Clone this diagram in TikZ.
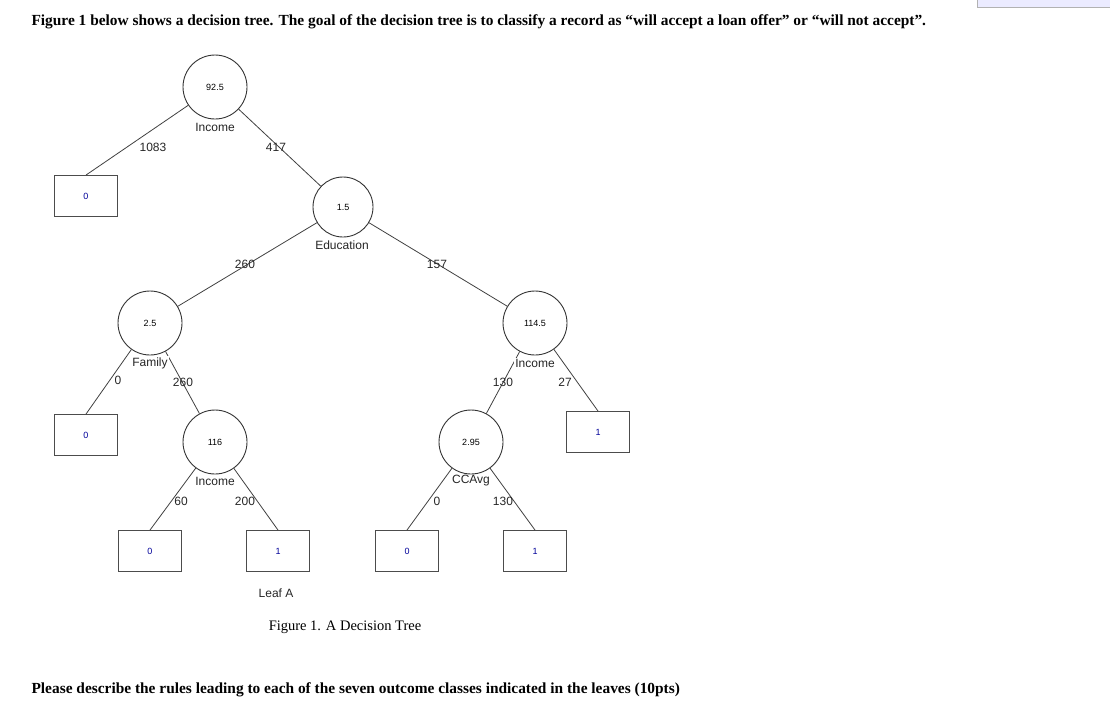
\documentclass[tikz,border=0pt]{standalone}
\usepackage{fontspec}
\setmainfont{Liberation Serif}
\setsansfont{Liberation Sans}
\begin{document}
\begin{tikzpicture}[x=1pt,y=-1pt,
  dec/.style={circle,draw=black!80,line width=0.9pt,minimum size=64pt,inner sep=0pt,font=\sffamily\fontsize{9}{10}\selectfont},
  leaf/.style={draw=black!70,line width=0.9pt,minimum width=63pt,minimum height=41pt,inner sep=0pt,font=\sffamily\fontsize{9}{10}\selectfont,text=blue!60!black},
  edge/.style={draw=black!75,line width=0.8pt},
  lab/.style={font=\sffamily\fontsize{12}{13}\selectfont,text=black!85,inner sep=0pt}]
\useasboundingbox (0,0) rectangle (1110,724);
\fill[blue!8,draw=black!30] (977,-3) rectangle (1113,7);
\node[anchor=west,font=\bfseries\fontsize{15.4}{17}\selectfont] (title) at (28,22) {Figure 1 below shows a decision tree. The goal of the decision tree is to classify a record as “will accept a loan offer” or “will not accept”.};
\node[dec] (n1) at (215,87) {92.5};
\node[dec,minimum size=60pt] (n2) at (343,207) {1.5};
\node[dec] (n3) at (150,323) {2.5};
\node[dec] (n4) at (535,323) {114.5};
\node[dec] (n5) at (215,442) {116};
\node[dec] (n6) at (471,442) {2.95};
\node[leaf] (l1) at (86,196) {0};
\node[leaf] (l2) at (86,435) {0};
\node[leaf] (l3) at (598,432) {1};
\node[leaf] (l4) at (150,551) {0};
\node[leaf] (l5) at (278,551) {1};
\node[leaf] (l6) at (407,551) {0};
\node[leaf] (l7) at (535,551) {1};
\draw[edge] (n1) -- (l1.north);
\draw[edge] (n1) -- (n2);
\draw[edge] (n2) -- (n3);
\draw[edge] (n2) -- (n4);
\draw[edge] (n3) -- (l2.north);
\draw[edge] (n3) -- (n5);
\draw[edge] (n4) -- (n6);
\draw[edge] (n4) -- (l3.north);
\draw[edge] (n5) -- (l4.north);
\draw[edge] (n5) -- (l5.north);
\draw[edge] (n6) -- (l6.north);
\draw[edge] (n6) -- (l7.north);
\node[lab,fill=white,inner sep=1pt] (t1) at (215,127) {Income};
\node[lab,fill=white,inner sep=1pt] (t2) at (342,245) {Education};
\node[lab,fill=white,inner sep=1pt] (t3) at (150,363) {Family};
\node[lab,fill=white,inner sep=1pt] (t4) at (535,363) {Income};
\node[lab,fill=white,inner sep=1pt] (t5) at (215,481) {Income};
\node[lab,fill=white,inner sep=1pt] (t6) at (471,481) {CCAvg};
\node[lab] (e1) at (153,147) {1083};
\node[lab] (e2) at (276,147) {417};
\node[lab] (e3) at (245,264) {260};
\node[lab] (e4) at (437,264) {157};
\node[lab] (e5) at (118,380) {0};
\node[lab] (e6) at (183,382) {260};
\node[lab] (e7) at (503,382) {130};
\node[lab] (e8) at (565,382) {27};
\node[lab] (e9) at (181,501) {60};
\node[lab] (e10) at (245,501) {200};
\node[lab] (e11) at (437,501) {0};
\node[lab] (e12) at (503,501) {130};
\node[lab] (leafA) at (276,593) {Leaf A};
\node[font=\fontsize{14.5}{16}\selectfont] (cap) at (345,627) {Figure 1. A Decision Tree};
\node[anchor=west,font=\bfseries\fontsize{15.4}{17}\selectfont] (q) at (28,690) {Please describe the rules leading to each of the seven outcome classes indicated in the leaves (10pts)};
\end{tikzpicture}
\end{document}
